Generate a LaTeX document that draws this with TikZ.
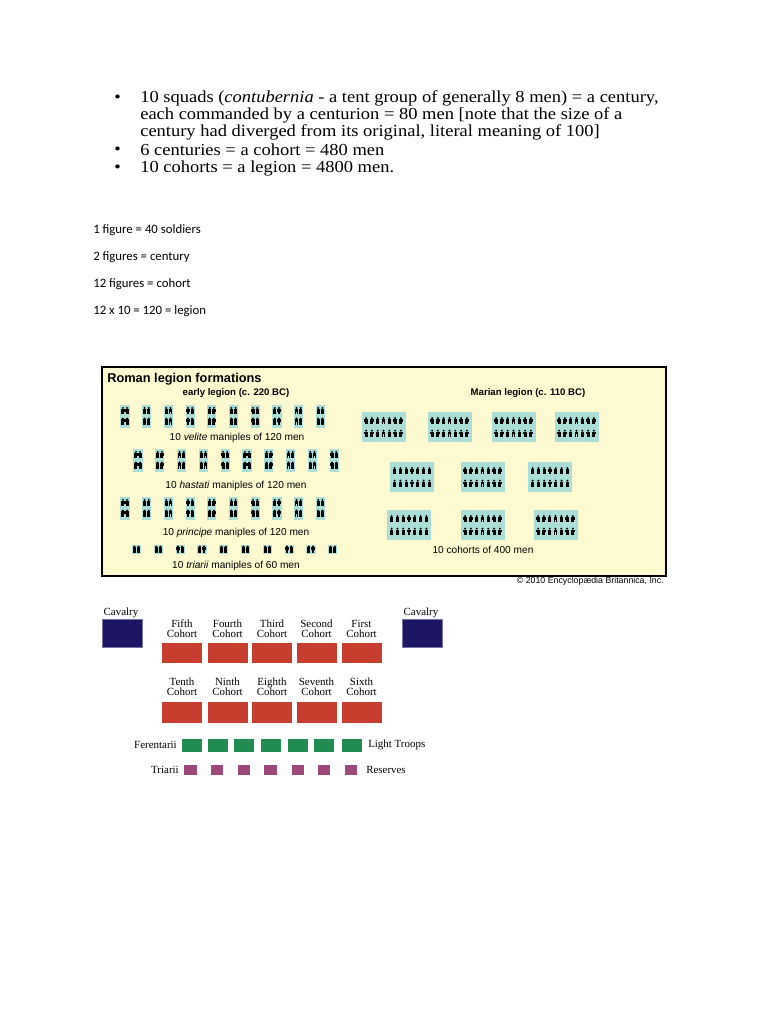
\documentclass[tikz,border=0pt]{standalone}
\usepackage{fontspec}
\setmainfont{Liberation Serif}
\newfontfamily\calfont{Carlito}
\newfontfamily\sansf{Liberation Sans}
\definecolor{boxbg}{RGB}{253,250,208}
\definecolor{cyanb}{RGB}{172,222,216}
\definecolor{navyc}{RGB}{28,22,100}
\definecolor{redc}{RGB}{200,62,46}
\definecolor{greenc}{RGB}{32,140,82}
\definecolor{purc}{RGB}{158,72,122}
\tikzset{
  man/.pic={\fill (0,-3.1) circle (1.3); \fill (-1.9,-2.1) rectangle (1.9,1.2);
    \fill (-1.7,1.1) rectangle (-0.1,4.2); \fill (0.1,1.1) rectangle (1.7,4.2);},
  bodytxt/.style={anchor=west,inner sep=0,xscale=1.1,font=\fontsize{12.6}{14}\selectfont},
  smalltxt/.style={anchor=west,inner sep=0,font=\calfont\fontsize{9.6}{11}\selectfont},
  lbl/.style={inner sep=0,font=\sansf\fontsize{7.6}{8}\selectfont},
  ftxt/.style={inner sep=0,align=center,font=\fontsize{8.2}{8.2}\selectfont},
  redbox/.style={fill=redc,minimum width=30pt,minimum height=15.5pt,inner sep=0},
  grbox/.style={fill=greenc,minimum width=15pt,minimum height=9.5pt,inner sep=0},
  pubox/.style={fill=purc,minimum width=9.5pt,minimum height=7.5pt,inner sep=0},
  cavbox/.style={fill=navyc,draw=navyc!60,minimum width=30pt,minimum height=21pt,inner sep=0}
}
\newcommand\maniple[2]{%
  \fill[cyanb] (#1-4.6,#2-11.5) rectangle (#1+4.6,#2+11.5);
  \foreach \dx in {-2.1,2.1}{\foreach \dy in {-5.4,5.2}{\pic[scale=0.85] at (#1+\dx,#2+\dy) {man};}}}
\newcommand\trmaniple[2]{%
  \fill[cyanb] (#1-4.6,#2-4.5) rectangle (#1+4.6,#2+4.5);
  \foreach \dx in {-2.1,2.1}{\pic[scale=0.85] at (#1+\dx,#2+0.2) {man};}}
\newcommand\cohortbox[2]{%
  \fill[cyanb] (#1-22,#2-15) rectangle (#1+22,#2+15);
  \foreach \k in {0,...,6}{\foreach \dy in {-6.3,6.3}{\pic[scale=0.85] at (#1-17.4+5.8*\k,#2+\dy) {man};}}}
\begin{document}
\begin{tikzpicture}[x=0.75pt,y=-0.75pt]
\fill[white] (0,0) rectangle (768,1024);
\useasboundingbox (0,0) rectangle (768,1024);
% bullet text
\node[bodytxt] (b1) at (114,99) {\textbullet};
\node[bodytxt] (t1) at (140,98) {10 squads (\textit{contubernia} - a tent group of generally 8 men) = a century,};
\node[bodytxt] (t2) at (140,115) {each commanded by a centurion = 80 men [note that the size of a};
\node[bodytxt] (t3) at (140,132) {century had diverged from its original, literal meaning of 100]};
\node[bodytxt] (b2) at (114,151) {\textbullet};
\node[bodytxt] (t4) at (140,150) {6 centuries = a cohort = 480 men};
\node[bodytxt] (b3) at (114,169) {\textbullet};
\node[bodytxt] (t5) at (140,168) {10 cohorts = a legion = 4800 men.};
% small lines
\node[smalltxt] (s1) at (93,230) {1 figure = 40 soldiers};
\node[smalltxt] (s2) at (93,257) {2 figures = century};
\node[smalltxt] (s3) at (93,284) {12 figures = cohort};
\node[smalltxt] (s4) at (93,311) {12 x 10 = 120 = legion};
% Britannica box
\draw[fill=boxbg,line width=1.5pt] (102,367) rectangle (666,576);
\node[anchor=west,inner sep=0,font=\sansf\bfseries\fontsize{9.6}{10}\selectfont] (title) at (107,379) {Roman legion formations};
\node[inner sep=0,font=\sansf\bfseries\fontsize{7.2}{8}\selectfont] (early) at (236,393) {early legion (c. 220 BC)};
\node[inner sep=0,font=\sansf\bfseries\fontsize{7.2}{8}\selectfont] (marian) at (528,393) {Marian legion (c. 110 BC)};
\foreach \i in {0,...,9}{\maniple{125+21.7*\i}{416}}
\node[lbl] (lv) at (237,438) {10 \textit{velite} maniples of 120 men};
\foreach \i in {0,...,9}{\maniple{138+21.8*\i}{460}}
\node[lbl] (lh) at (236,486) {10 \textit{hastati} maniples of 120 men};
\foreach \i in {0,...,9}{\maniple{125+21.7*\i}{508}}
\node[lbl] (lp) at (236,533) {10 \textit{principe} maniples of 120 men};
\foreach \i in {0,...,9}{\trmaniple{136.5+21.8*\i}{549}}
\node[lbl] (lt) at (236,566) {10 \textit{triarii} maniples of 60 men};
\cohortbox{383.5}{427}\cohortbox{449.5}{427}\cohortbox{513.5}{427}\cohortbox{576.5}{427}
\cohortbox{412}{477}\cohortbox{482.5}{477}\cohortbox{550}{477}
\cohortbox{409}{525}\cohortbox{482.5}{525}\cohortbox{555.5}{525}
\node[lbl] (lc) at (483,550) {10 cohorts of 400 men};
\node[anchor=east,inner sep=0,font=\sansf\fontsize{6.6}{7}\selectfont] (copy) at (664,581) {\textcopyright\ 2010 Encyclopædia Britannica, Inc.};
% formation
\node[ftxt] (cavl) at (121,613) {Cavalry};
\node[cavbox] (cl) at (122,633) {};
\node[ftxt] (cavr) at (421,613) {Cavalry};
\node[cavbox] (cr) at (422,633) {};
\foreach \n/\x/\a/\b in {r1/182/Fifth/Cohort, r2/227.5/Fourth/Cohort, r3/272/Third/Cohort, r4/316.5/Second/Cohort, r5/361.5/First/Cohort}{
  \node[redbox] (\n) at (\x,653) {};
  \node[ftxt] (\n l) at (\x,629) {\a\\[-0.5pt]\b};}
\foreach \n/\x/\a/\b in {q1/182/Tenth/Cohort, q2/227.5/Ninth/Cohort, q3/272/Eighth/Cohort, q4/316.5/Seventh/Cohort, q5/361.5/Sixth/Cohort}{
  \node[redbox] (\n) at (\x,712.5) {};
  \node[ftxt] (\n l) at (\x,687) {\a\\[-0.5pt]\b};}
\foreach \n/\x in {g1/191.5,g2/218,g3/244,g4/271,g5/298,g6/324,g7/352}{\node[grbox] (\n) at (\x,745.5) {};}
\node[ftxt,anchor=east] (fer) at (177,745) {Ferentarii};
\node[ftxt,anchor=west] (light) at (368,745) {Light Troops};
\foreach \n/\x in {p1/190.5,p2/217,p3/244,p4/270.5,p5/298,p6/324,p7/351}{\node[pubox] (\n) at (\x,770) {};}
\node[ftxt,anchor=east] (tri) at (179,770) {Triarii};
\node[ftxt,anchor=west] (res) at (366,770) {Reserves};
\end{tikzpicture}
\end{document}
